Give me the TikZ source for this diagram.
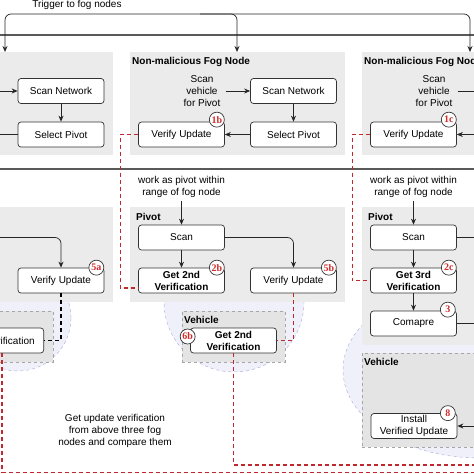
\documentclass[tikz,border=0pt]{standalone}
\usepackage{fontspec}
\setmainfont{Liberation Sans}
\newfontfamily\badgefont{Liberation Serif}
\usetikzlibrary{arrows.meta,positioning}
\definecolor{lanegray}{HTML}{EBEBEB}
\definecolor{vehgray}{HTML}{E4E4E4}
\definecolor{vehline}{HTML}{A6A6A6}
\definecolor{zonefill}{HTML}{F0F0FA}
\definecolor{zoneline}{HTML}{A8A8D8}
\definecolor{linkred}{HTML}{C0282D}
\definecolor{badgered}{HTML}{D42A2A}
\begin{document}
\begin{tikzpicture}[x=1pt,y=-1pt,
    lane/.style={fill=lanegray,inner sep=0pt,anchor=north west},
    veh/.style={fill=vehgray,draw=vehline,dashed,inner sep=0pt,anchor=north west},
    zone/.style={fill=zonefill,draw=zoneline,dashed},
    proc/.style={rectangle,rounded corners=3pt,draw=black!80,line width=0.7pt,fill=white,minimum width=86pt,minimum height=25pt,inner ysep=1pt,align=center},
    badge/.style={circle,draw=black!80,line width=0.7pt,fill=white,inner sep=0pt,minimum size=15pt,text=badgered,font=\badgefont\bfseries},
    title/.style={font=\bfseries,anchor=west,inner sep=0pt},
    flow/.style={-{Stealth[length=6pt,width=5pt]},black!85,line width=0.7pt},
    plain/.style={black!85,line width=0.7pt},
    redlink/.style={linkred,dash pattern=on 4pt off 3pt,line width=1.3pt},
    blklink/.style={black,dash pattern=on 4pt off 3pt,line width=1.3pt}]
  \useasboundingbox (0,0) rectangle (474,474);
  \clip (0,0) rectangle (474,474);
  % zones round the vehicles
  \draw[zone] (18,318) circle[radius=53pt];
  \draw[zone] (234,302) circle[radius=70pt];
  \draw[zone] (480,370) ellipse[x radius=137pt,y radius=88pt];
  % lanes
  \node[lane,minimum width=133pt,minimum height=103pt] (fogA) at (-20,52) {};
  \node[lane,minimum width=215pt,minimum height=103pt] (fogB) at (130,52) {};
  \node[lane,minimum width=130pt,minimum height=103pt] (fogC) at (362,52) {};
  \node[lane,minimum width=133pt,minimum height=95pt] (pivA) at (-20,207) {};
  \node[lane,minimum width=215pt,minimum height=95pt] (pivB) at (130,207) {};
  \node[lane,minimum width=130pt,minimum height=138pt] (pivC) at (362,207) {};
  \node[veh,minimum width=73pt,minimum height=51pt] (vehA) at (-20,311) {};
  \node[veh,minimum width=103pt,minimum height=51pt] (vehB) at (182,311) {};
  \node[veh,minimum width=130pt,minimum height=94pt] (vehC) at (362,353) {};
  \node[title] (tB) at (132,62) {Non-malicious Fog Node};
  \node[title] (tC) at (364,62) {Non-malicious Fog Node};
  \node[title] (pB) at (136,217) {Pivot};
  \node[title] (pC) at (368,217) {Pivot};
  \node[title] (vB) at (184,320) {Vehicle};
  \node[title] (vC) at (364,362) {Vehicle};
  % dividers
  \draw[black!65,line width=1.2pt] (-5,35) -- (480,35);
  \draw[black!65,line width=1.8pt] (-5,169) -- (480,169);
  % texts
  \node[anchor=base] (trigtext) at (77,7.5) {Trigger to fog nodes};
  \coordinate (trig) at (200,14);
  \node[align=center,inner xsep=5pt] (lookB) at (202,91) {Scan\\vehicle\\for Pivot};
  \node[align=center,inner xsep=5pt] (lookC) at (434,91) {Scan\\vehicle\\for Pivot};
  \node[align=center] (workB) at (181.5,187) {work as pivot within\\range of fog node};
  \node[align=center] (workC) at (413.5,187) {work as pivot within\\range of fog node};
  \node[align=center] (note) at (115,431) {Get update verification\\from above three fog\\nodes and compare them};
  % steps
  \node[proc] (scanA) at (61,91) {Scan Network};
  \node[proc] (pickA) at (61,134.5) {Select Pivot};
  \node[proc] (scanB) at (293.5,91) {Scan Network};
  \node[proc] (pickB) at (293.5,134.5) {Select Pivot};
  \node[proc] (verB) at (181.5,134.5) {Verify Update};
  \node[proc] (verC) at (413.5,134.5) {Verify Update};
  \node[proc] (ver5A) at (61,280.5) {Verify Update};
  \node[proc] (pscanB) at (181.5,237.5) {Scan};
  \node[proc,font=\bfseries] (get2B) at (181.5,280.5) {Get 2nd\\Verification};
  \node[proc] (ver5B) at (293.5,280.5) {Verify Update};
  \node[proc] (pscanC) at (413.5,237.5) {Scan};
  \node[proc,font=\bfseries] (get3C) at (413.5,280.5) {Get 3rd\\Verification};
  \node[proc] (cmpC) at (413.5,323.5) {Comapre};
  \node[proc,minimum width=0pt,inner xsep=9pt,anchor=east] (vgetA) at (44,340.5) {Verification};
  \node[proc,font=\bfseries] (vgetB) at (233.5,340.5) {Get 2nd\\Verification};
  \node[proc] (instC) at (414,426) {Install\\Verified Update};
  % badges
  \node[badge] (b1b) at ([xshift=-8pt,yshift=2pt]verB.north east) {1b};
  \node[badge] (b1c) at ([xshift=-8pt,yshift=2pt]verC.north east) {1c};
  \node[badge] (b5a) at ([xshift=-8pt]ver5A.north east) {5a};
  \node[badge] (b2b) at ([xshift=-8pt]get2B.north east) {2b};
  \node[badge] (b5b) at ([xshift=-8pt]ver5B.north east) {5b};
  \node[badge] (b2c) at ([xshift=-8pt]get3C.north east) {2c};
  \node[badge] (b3) at ([xshift=-9pt,yshift=1pt]cmpC.north east) {3};
  \node[badge] (b8) at ([xshift=-9.5pt]instC.north east) {8};
  \node[badge] (b6b) at ([xshift=-2.5pt,yshift=4pt]vgetB.west) {6b};
  % links
  \draw[flow,rounded corners=6pt] (trig) -| ([xshift=25pt]fogA.north west);
  \draw[flow,rounded corners=6pt] (trig) -| ([xshift=107pt]fogB.north west);
  \draw[flow,rounded corners=6pt] (trig) -| ([xshift=108pt]fogC.north west);
  \draw[flow] (scanA.west -| fogA.west) -- (scanA.west);
  \draw[plain] (pickA.west) -- (pickA.west -| fogA.west);
  \draw[flow] (scanA) -- (pickA);
  \draw[flow] (lookB.east |- scanB.west) -- (scanB.west);
  \draw[flow] (scanB) -- (pickB);
  \draw[flow] (pickB) -- (verB);
  \draw[plain] (lookC.east) -- (lookC.east -| fogC.east);
  \draw[flow] (verC.east -| fogC.east) -- (verC);
  \draw[redlink] (verB.west) -- ++(-18,0) |- ([yshift=-7.5pt]get2B.west);
  \draw[redlink] (verC.west) -- ++(-18,0) |- (get3C.west);
  \draw[flow,rounded corners=6pt] (pscanB.east -| pivA.west) -| (ver5A);
  \draw[flow] (workB) -- (pscanB);
  \draw[flow] (pscanB) -- (get2B);
  \draw[flow,rounded corners=6pt] (pscanB) -| (ver5B);
  \draw[flow] (workC) -- (pscanC);
  \draw[flow] (pscanC) -- (get3C);
  \draw[flow] (get3C) -- (cmpC);
  \draw[plain] (pscanC) -- (pscanC.east -| pivC.east);
  \draw[plain] (cmpC) -- (cmpC.east -| pivC.east);
  \coordinate (sinkA) at (480,472.5);
  \coordinate (sinkB) at (480,465);
  \draw[blklink] (ver5A) |- (vgetA);
  \draw[redlink] (ver5B) |- (vgetB);
  \draw[redlink] ([xshift=25.5pt]vgetA.south west) |- (sinkA);
  \draw[redlink] (vgetB) |- (sinkB);
  \draw[flow] (instC.east -| vehC.east) -- (instC);
\end{tikzpicture}
\end{document}
